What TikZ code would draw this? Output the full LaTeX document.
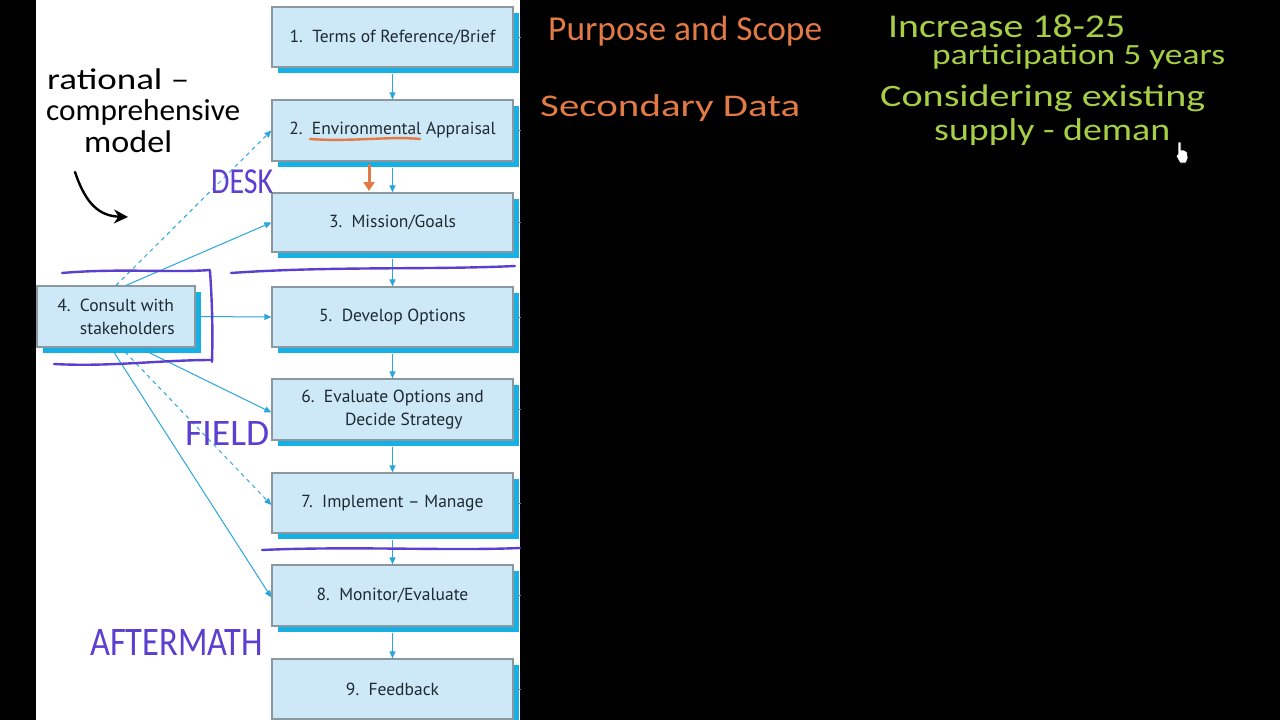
\documentclass[tikz,border=0pt]{standalone}
\usepackage{fontspec}
\setmainfont{PT Sans}
\newfontfamily\hand{Carlito}
\usetikzlibrary{arrows.meta,shadows}
\definecolor{boxfill}{HTML}{CDE8F6}
\definecolor{boxshadow}{HTML}{17B0E4}
\definecolor{boxline}{HTML}{8C98A0}
\definecolor{flow}{HTML}{2AA6DC}
\definecolor{pen}{HTML}{5B3FD0}
\definecolor{orangepen}{HTML}{E27A45}
\definecolor{greenpen}{HTML}{A6CF45}
\definecolor{textdark}{HTML}{1E2A33}
\newcommand\hw[3]{\resizebox*{#1pt}{#2pt}{\hand #3}}
\tikzset{
  stepbox/.style={draw=boxline, fill=boxfill, line width=1.2pt,
    minimum width=241pt, minimum height=60pt, inner sep=0pt,
    text=textdark, font=\fontsize{17.5}{23}\selectfont, align=center,
    general shadow={fill=boxshadow, shadow xshift=6pt, shadow yshift=-6pt}},
  flowarrow/.style={draw=flow, line width=1pt, -{Triangle[length=7pt,width=6pt]}},
  flowdash/.style={flowarrow, dashed, dash pattern=on 4pt off 4pt},
  penline/.style={draw=pen, line width=2.4pt, line cap=round},
  orangeline/.style={draw=orangepen, line width=2.4pt, line cap=round},
  handtext/.style={inner sep=0pt, anchor=west},
  tick/.style={draw=flow!70!gray, line width=1pt}
}
\begin{document}
\begin{tikzpicture}[x=1pt,y=-1pt]
\fill[black] (0,0) rectangle (1280,720);
\fill[white] (36,0) rectangle (520,720);
\useasboundingbox (0,0) rectangle (1280,720);

% main column
\node[stepbox] (b1) at (392.5,37) {1.\ \ Terms of Reference/Brief};
\node[stepbox, minimum height=61pt] (b2) at (392.5,130.5) {2.\ \ Environmental Appraisal};
\node[stepbox, minimum height=59pt] (b3) at (392.5,222.5) {3.\ \ Mission/Goals};
\node[stepbox] (b5) at (392.5,317) {5.\ \ Develop Options};
\node[stepbox, minimum height=61pt] (b6) at (392.5,409.5) {6.\ \ Evaluate Options and\\\phantom{6.\ \ }Decide Strategy};
\node[stepbox] (b7) at (392.5,503) {7.\ \ Implement -- Manage};
\node[stepbox, minimum height=61pt] (b8) at (392.5,595.5) {8.\ \ Monitor/Evaluate};
\node[stepbox] (b9) at (392.5,689) {9.\ \ Feedback};
\node[stepbox, minimum width=158pt, minimum height=61pt, align=left] (b4) at (116,316.5)
  {4.\ \ Consult with\\\phantom{4.\ \ }stakeholders};

% vertical flow
\foreach \a/\b in {b1/b2,b2/b3,b3/b5,b5/b6,b6/b7,b7/b8,b8/b9}
  \draw[flowarrow, shorten <=6pt] (\a.south) -- (\b.north);

% right-edge ticks (feedback loop, cut off)
\foreach \n in {b1,b2,b3,b5,b6,b7,b8,b9}
  \draw[tick] (\n.east) -- ++(7,0);

% consultation links
\draw[flowdash] ([xshift=0pt]b4.north) -- (b2.west);
\draw[flowarrow] ([xshift=10pt]b4.north) -- (b3.west);
\draw[flowarrow] (b4.east) -- (b5.west);
\draw[flowarrow, shorten <=6pt] ([xshift=23pt]b4.south) -- ([yshift=-3pt]b6.west);
\draw[flowdash, shorten <=6pt] ([xshift=5pt]b4.south) -- ([yshift=-2pt]b7.west);
\draw[flowarrow, shorten <=3pt] ([xshift=-5pt]b4.south) -- ([yshift=-2pt]b8.west);

% purple annotations
\draw[penline] (62,273) .. controls (120,268) and (170,273) .. (210,270);
\draw[penline] (210,271) .. controls (212,300) and (213,330) .. (212,362);
\draw[penline] (54,364) .. controls (110,367) and (160,360) .. (212,360);
\draw[penline] (231,273) .. controls (330,266) and (430,270) .. (515,266);
\draw[penline] (262,550) .. controls (350,546) and (450,551) .. (520,548);
\node[handtext, text=pen] (desk) at (211,182) {\hw{62}{24}{DESK}};
\node[handtext, text=pen] (field) at (185,433) {\hw{84}{24}{FIELD}};
\node[handtext, text=pen] (aftermath) at (90,642) {\hw{173}{26}{AFTERMATH}};

% orange annotations on diagram
\draw[orangeline] (310,139) .. controls (350,142) and (390,136) .. (420,139);
\coordinate (oa) at (369,165);
\coordinate (ob) at (369,191);
\draw[orangeline, line width=3pt, -{Triangle[length=9pt,width=11pt]}] (oa) -- (ob);

% black handwritten note
\node[handtext, text=black] (rat) at (47,79) {\hw{142}{21}{rational –}};
\node[handtext, text=black] (comp) at (46,112) {\hw{194}{26}{comprehensive}};
\node[handtext, text=black] (mod) at (84,142) {\hw{88}{22}{model}};
\coordinate (ca) at (75,172);
\coordinate (cb) at (128,217);
\draw[black, line width=2.4pt, line cap=round, -{Stealth[length=14pt,width=14pt]}]
  (ca) .. controls (86,205) and (100,216) .. (cb);

% right side notes
\node[handtext, text=orangepen] (purp) at (548,31) {\hw{274}{30}{Purpose and Scope}};
\node[handtext, text=orangepen] (sec) at (540,108) {\hw{260}{27}{Secondary Data}};
\node[handtext, text=greenpen] (inc) at (888,26) {\hw{237}{23}{Increase 18-25}};
\node[handtext, text=greenpen] (part) at (932,57) {\hw{293}{25}{participation 5 years}};
\node[handtext, text=greenpen] (cons) at (880,98) {\hw{325}{27}{Considering existing}};
\node[handtext, text=greenpen] (supp) at (934,132) {\hw{236}{27}{supply - deman}};

% mouse cursor
\fill[white, draw=black, line width=0.6pt]
  (1178,142) -- (1181,142) -- (1181,150) -- (1184,150) -- (1187,152) -- (1188,158)
  -- (1186,163) -- (1180,163) -- (1176,156) -- (1178,154) -- cycle;
\end{tikzpicture}
\end{document}
